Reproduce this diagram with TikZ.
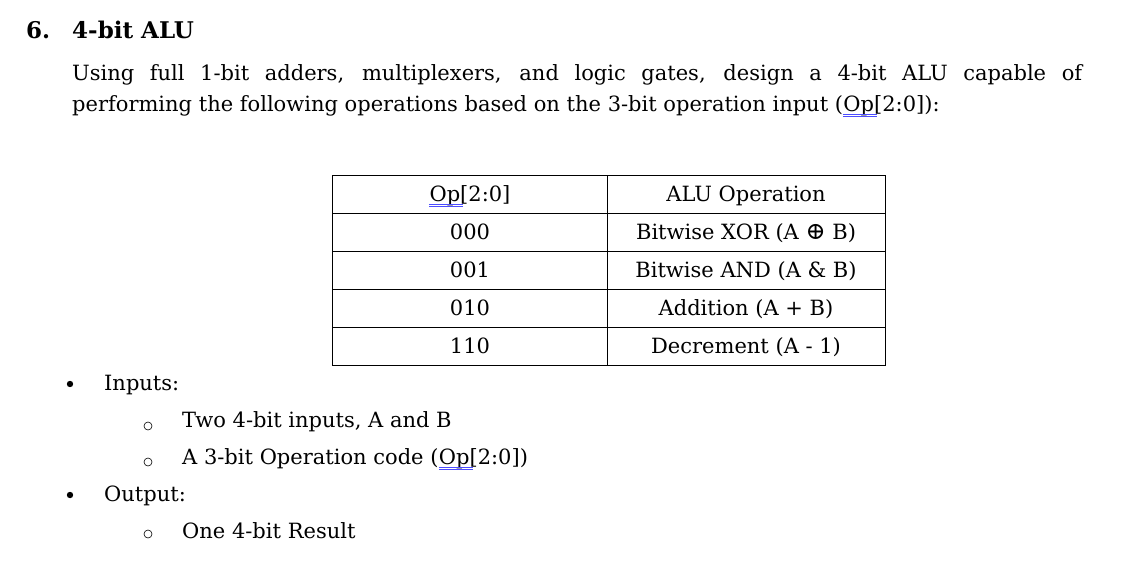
\documentclass[tikz,border=0pt]{standalone}
\usepackage{fontspec}
\setmainfont{DejaVu Serif}
\begin{document}
\begin{tikzpicture}[x=1pt,y=-1pt,
  txt/.style={anchor=base west,inner sep=0pt,font=\fontsize{21}{24}\selectfont},
  cell/.style={anchor=base,inner sep=0pt,font=\fontsize{21}{24}\selectfont},
  sq/.style={blue!70!white,line width=0.6pt}]
\useasboundingbox (0,0) rectangle (1132,562);
\node[txt,font=\bfseries\fontsize{23}{26}\selectfont] (h1) at (26,38) {6.};
\node[txt,font=\bfseries\fontsize{23}{26}\selectfont] (h2) at (72,38) {4-bit ALU};
\node[txt] (p1) at (72,80) {\makebox[1010pt][s]{Using full 1-bit adders, multiplexers, and logic gates, design a 4-bit ALU capable of}};
\node[txt] (p2) at (72,111) {performing the following operations based on the 3-bit operation input (};
\node[txt] (p3) at (p2.base east) {Op[2:0]):};
\draw[sq] ([yshift=-3pt]p3.base west)--++(34,0) ([yshift=-5.5pt]p3.base west)--++(34,0);
% table
\draw[line width=0.7pt] (332,175) rectangle (885,365);
\draw[line width=0.7pt] (607,175)--(607,365);
\foreach \y in {213,251,289,327} \draw[line width=0.7pt] (332,\y)--(885,\y);
\node[cell] (c0) at (470,201) {Op[2:0]};
\draw[sq] ([yshift=-3pt]c0.base west)--++(34,0) ([yshift=-5.5pt]c0.base west)--++(34,0);
\node[cell] (d0) at (746,201) {ALU Operation};
\node[cell] (c1) at (470,239) {000}; \node[cell] (d1) at (746,239) {Bitwise XOR (A {\fontsize{24}{24}\selectfont ⊕} B)};
\node[cell] (c2) at (470,277) {001}; \node[cell] (d2) at (746,277) {Bitwise AND (A \& B)};
\node[cell] (c3) at (470,315) {010}; \node[cell] (d3) at (746,315) {Addition (A + B)};
\node[cell] (c4) at (470,353) {110}; \node[cell] (d4) at (746,353) {Decrement (A - 1)};
% bullets
\fill (70,384) circle (3.2); \node[txt] (b1) at (104,390) {Inputs:};
\draw[line width=0.6pt] (148,426) circle (4); \node[txt] (b2) at (182,427) {Two 4-bit inputs, A and B};
\draw[line width=0.6pt] (148,462) circle (4); \node[txt] (b3) at (182,464) {A 3-bit Operation code (};
\node[txt] (b3b) at (b3.base east) {Op[2:0])};
\draw[sq] ([yshift=-3pt]b3b.base west)--++(34,0) ([yshift=-5.5pt]b3b.base west)--++(34,0);
\fill (70,495) circle (3.2); \node[txt] (b4) at (104,501) {Output:};
\draw[line width=0.6pt] (148,534) circle (4); \node[txt] (b5) at (182,538) {One 4-bit Result};
\end{tikzpicture}
\end{document}
